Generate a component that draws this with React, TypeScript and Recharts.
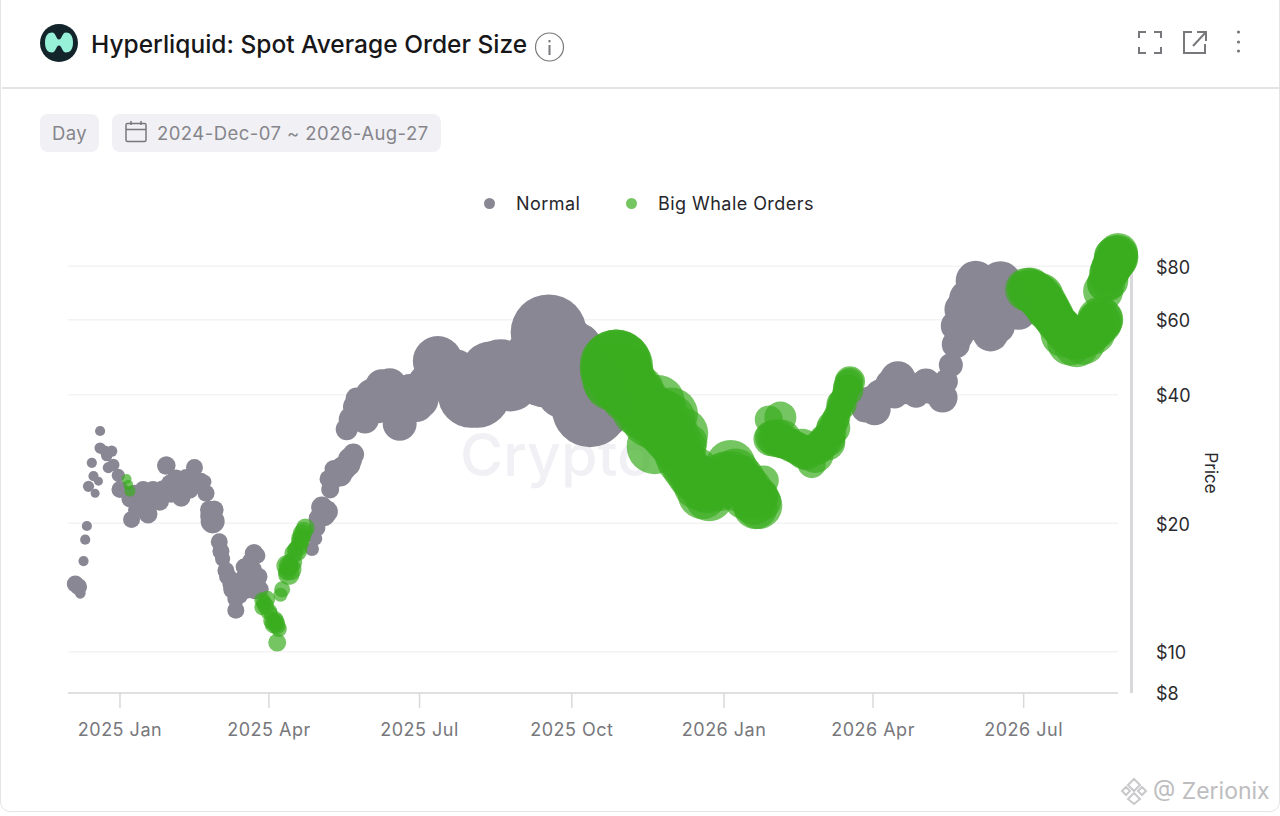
import { Legend, Scatter, ScatterChart, XAxis, YAxis, ZAxis, CartesianGrid } from 'recharts';

const FONT = 'Inter, "Noto Sans", sans-serif';
const GRAY = '#8a8794';
const GREEN = '#3aad1f';

// x values are days counted from 2025-01-01, z is the relative order size
const X_TICKS = [0, 90, 181, 273, 365, 455, 546];
const X_LABELS = ['2025 Jan', '2025 Apr', '2025 Jul', '2025 Oct', '2026 Jan', '2026 Apr', '2026 Jul'];
const Y_TICKS = [8, 10, 20, 40, 60, 80];

const normalDays = [
  -27, -25, -24, -22, -21, -20, -19, -15, -16, -13, -17, -12, -12, -9, -8, -5, -7, -4, -1, 0, 6, 7, 12, 14, 17, 18, 20,
  24, 28, 28, 31, 34, 37, 37, 40, 42, 45, 47, 51, 52, 55, 56, 60, 61, 64, 66, 68, 70, 70, 71, 72, 74, 75, 77, 78, 80,
  81, 82, 83,
  116, 118, 120, 123, 125, 127, 126, 129, 133, 136, 139, 137, 140, 143, 142, 148, 152, 156, 158, 163, 166, 169, 172,
  177, 181, 186, 192, 196, 202, 212, 216, 224, 230, 236, 245, 248, 257, 259, 263, 269, 275, 284, 288, 290,
  447, 452, 456, 459, 465, 470, 475, 481, 487, 493, 497, 499, 502, 505, 505, 509, 513, 517, 523, 532, 526, 523, 535,
  543, 538,
  9, 10, 15, 19, 22, 26, 30, 33, 36, 39, 43, 46, 49, 54, 57, 62, 65, 67, 69, 73, 76, 79, 83, 84, 85,
  119, 122, 128, 131, 134, 138, 141, 145, 150, 154, 160, 171, 175, 179, 183,
  450, 453, 462, 468, 478, 484, 490, 507, 511, 515, 519, 528, 530, 540,
];
const normalPrices = [
  14.4, 14.2, 13.7, 16.3, 18.3, 19.7, 24.4, 23.5, 25.8, 25.1, 27.7, 32.9, 30, 29.5, 28.8, 29.5, 27, 27.4, 25.9, 24,
  22.8, 20.4, 22.1, 24, 21, 22.8, 24, 22.5, 23.5, 27.3, 23.5, 25.4, 23, 24, 25.6, 24, 27, 25.1, 25, 23.5, 20.8, 20.2,
  18.1, 17.2, 15.5, 14.9, 14, 13.3, 12.5, 14.3, 13.6, 14.8, 15.8, 14, 14.8, 15.6, 17, 14, 14.6,
  17.4, 18.4, 20.5, 21, 21.3, 24, 25.4, 26.8, 26, 26.8, 28.2, 33.2, 35, 39.2, 37.5, 35, 40, 37, 42.1, 42.1, 39, 34.2,
  37, 39, 39, 42.5, 48, 45, 45, 40, 40, 45.4, 45.4, 42.5, 45.9, 48.4, 45.9, 56, 52, 41.2, 51, 37, 37.8, 43,
  39, 38, 37, 40, 42.5, 43.5, 41.2, 40, 42.5, 40.5, 39.4, 43, 47, 52.5, 58, 63.4, 67, 74, 70.6, 73.4, 55.7, 60, 68.5,
  62.6, 65,
  23.5, 21.5, 22.8, 23.8, 23.2, 24, 24.8, 23.8, 25, 24, 25.6, 24.6, 25.2, 21.5, 21.5, 16.5, 15, 14.4, 13.8, 14.4, 15,
  16.3, 16.8, 15, 14,
  19.5, 21.8, 25, 26, 27, 27.5, 29, 37, 38, 39, 41, 38, 41, 38, 41,
  37, 39, 41, 40, 41, 42, 41, 55, 58, 62, 69, 66, 58, 66,
];
const normalSizes = [
  5, 5, 2, 1.8, 1.8, 1.8, 2.2, 1.4, 1.8, 1.4, 1.8, 1.8, 2.2, 2.2, 2.2, 2.2, 2.2, 2.6, 3, 5, 5, 5, 6, 5, 6, 7, 5, 6, 6,
  6, 6, 6, 6, 6, 5, 6, 5, 5, 3.5, 5, 8, 10, 5, 5, 5, 5, 6, 5, 5, 5, 6, 5, 5, 6, 5, 6, 6, 7, 5,
  3.4, 3.4, 6.9, 10, 8.4, 5.6, 5.6, 5.6, 10, 8.4, 10, 8.4, 11.7, 8.4, 10, 13.6, 17.7, 13.6, 17.7, 20, 20, 20, 20, 20,
  25, 27.7, 43, 40, 40, 75, 75, 62, 71, 54, 43, 54, 100, 100, 100, 62, 54, 100, 90, 54,
  10, 13.6, 17.7, 15.6, 13.6, 22.4, 15.6, 11.7, 15.6, 11.7, 15.6, 10, 10, 13.6, 15.6, 22.4, 27.7, 27.7, 27.7, 30.7,
  22.4, 27.7, 27.7, 22.4, 27.7,
  5, 5, 6, 6, 6, 6, 5, 6, 6, 6, 5, 5, 4, 6, 6, 4, 5, 5, 5, 5, 5, 5, 4.5, 5, 4.5,
  5, 8, 6, 8, 8, 10, 8, 10, 14, 17, 18, 20, 18, 22, 25,
  12, 12, 13, 13, 13, 13, 13, 14, 18, 22, 25, 25, 22, 20,
];

const whaleDays = [
  4, 5, 6,
  86, 86, 89, 91, 92, 94, 96, 95, 98, 97, 101, 102, 103, 106, 108, 109, 110, 111,
  293, 297, 300, 302, 305, 308, 311, 314, 314, 317, 320, 323, 326, 329, 332, 335, 338, 341, 344, 348, 351, 352, 356,
  360, 364, 369, 372, 375, 378, 381, 384, 387, 389,
  392, 393, 396, 399, 402, 405, 408, 411, 415, 418, 420, 424, 428, 429, 432, 434, 437, 440,
  547, 550, 553, 556, 559, 561, 563, 565, 568, 570, 573, 576, 578, 580, 583, 586, 589, 592, 594, 595, 597, 599, 600,
  602, 603,
  87, 88, 90, 93, 94, 95, 101, 102, 104, 105, 107, 109, 110, 112,
  299, 300, 301, 298, 303, 306, 309, 312, 316, 319, 322, 325, 328, 331, 333, 336, 339, 342, 345, 347, 349, 353, 355,
  358, 362, 366, 370, 373, 376, 379, 382, 383, 385, 388,
  394, 397, 400, 403, 406, 409, 413, 416, 422, 426, 430, 431, 433, 435, 436, 438, 439, 441,
  548, 551, 554, 557, 558, 560, 562, 564, 566, 569, 571, 574, 575, 577, 579, 581, 584, 587, 590, 591, 593,
  596, 598, 598, 599, 601, 601, 602, 603,
  325, 333, 340, 356, 362, 372, 378, 386, 400, 412, 420, 427, 431, 436, 440, 441,
  570, 574, 578, 582, 588, 592, 556,
];
const whalePrices = [
  25.4, 24.6, 23.8,
  13.2, 12.7, 13.3, 12.3, 11.8, 11.9, 11.3, 10.5, 14, 13.6, 15.4, 15.9, 15.6, 17.4, 17.6, 18.1, 18.6, 19.2,
  45.6, 42.7, 47.1, 43, 41.5, 40.2, 39.2, 41.2, 37, 36, 35, 30.3, 37, 36, 35, 32.2, 29, 30, 31, 26.8, 25.4, 23.4, 25,
  24.8, 26, 27.4, 26.3, 25.4, 24.8, 24, 21.8, 23.2, 25.2,
  35, 31.5, 31.5, 35.4, 31, 30.5, 30.2, 29.8, 28.8, 27.5, 29.8, 30.6, 31.5, 33.2, 34.8, 36.6, 39, 42.5,
  71, 70.6, 69.3, 68, 65.5, 63.4, 61.7, 60, 58.2, 57, 55.5, 54, 54, 53.8, 54.5, 55.5, 57, 59, 70, 73, 77, 79, 80.8, 84,
  86,
  13, 12.8, 12.4, 11.6, 11.7, 11.5, 15.9, 15.2, 16.2, 17, 17.2, 18.4, 18.9, 19.5,
  47, 47.1, 46.5, 44, 44, 42.5, 41, 40, 38, 36.5, 35.5, 34, 33, 32, 31, 30, 28, 27, 26, 25.5, 24.5, 24.2, 23.8, 25,
  25.5, 26.2, 26, 25.5, 24.6, 24, 23, 22.3, 23, 22.5,
  31.8, 32, 31, 30.8, 30.3, 30, 29, 29.5, 30, 31, 32.5, 34, 35.5, 37.5, 38.5, 40, 41.5, 43,
  70.6, 70, 68.5, 66.5, 66, 64, 62.5, 61, 59, 57.5, 56, 55, 54.5, 54, 54, 54, 55, 56, 58, 59, 60,
  73, 78, 74, 80, 82, 84, 83, 85,
  38.5, 36, 32.5, 23, 24, 24, 23, 22, 31.5, 30, 29, 31, 33.5, 38, 41, 43,
  55.5, 53, 52.5, 53, 56, 60, 68,
];
const whaleSizes = [
  1.7, 1.7, 2.1,
  4.4, 4.4, 4.4, 3.4, 5.6, 4.4, 4.4, 5.6, 4.4, 3.4, 5.6, 6.9, 8.4, 4.4, 5.6, 5.6, 5.6, 5.6,
  43, 54, 85, 62, 62, 62, 50, 40, 54, 50, 54, 54, 33.5, 40, 47, 43, 43, 33.5, 22.4, 33.5, 40, 43, 33.5, 27.7, 33.5,
  43, 40, 40, 33.5, 33.5, 33.5, 22.4, 15.6,
  13.6, 20, 22.4, 17.7, 20, 17.7, 17.7, 17.7, 15, 13.6, 17.7, 17.7, 20, 13.6, 13.6, 11.7, 11.7, 13.6,
  22.4, 33.5, 33.5, 33.5, 33.5, 33.5, 30, 27.7, 27.7, 27.7, 27.7, 27.7, 27.7, 25, 27.7, 27.7, 30, 33.5, 27.7, 22, 25,
  27.7, 27.7, 33.5, 27.7,
  4.4, 5, 5, 6, 6, 5, 8, 8, 7, 6, 7, 6, 6, 6,
  85, 85, 85, 70, 75, 65, 60, 55, 55, 55, 50, 50, 45, 45, 40, 40, 40, 40, 40, 40, 40, 40, 35, 33, 33, 33, 38, 35, 35,
  33, 33, 33, 30, 25,
  20, 20, 18, 18, 18, 18, 16, 16, 18, 18, 15, 13, 13, 12, 12, 12, 13, 13,
  33, 33, 33, 33, 30, 33, 30, 30, 28, 28, 28, 28, 28, 28, 26, 27, 28, 28, 30, 33, 33,
  25, 27, 24, 27, 30, 30, 30, 28,
  50, 50, 45, 40, 33, 33, 35, 38, 26, 26, 24, 24, 20, 16, 16, 16,
  36, 36, 36, 34, 34, 36, 38,
];

const normalData = normalDays.map((day, i) => ({ day, price: normalPrices[i], size: normalSizes[i] }));
const whaleData = whaleDays.map((day, i) => ({ day, price: whalePrices[i], size: whaleSizes[i] }));

function LegendRow({ payload }: { payload?: any[] }) {
  return (
    <div style={{ position: 'relative', height: 24, fontFamily: FONT, fontSize: 18, letterSpacing: 0.45, color: '#26262b' }}>
      {(payload ?? []).map((item) => {
        const first = item.value === 'Normal';
        const left = first ? 484 : 626;
        return (
          <div key={item.value}>
            <span
              style={{
                position: 'absolute',
                left,
                top: 6,
                width: 11,
                height: 11,
                borderRadius: '50%',
                background: item.color,
                opacity: first ? 1 : 0.7,
              }}
            />
            <span style={{ position: 'absolute', left: left + 32, top: 0, lineHeight: '24px', whiteSpace: 'nowrap' }}>
              {item.value}
            </span>
          </div>
        );
      })}
    </div>
  );
}

const chipStyle: React.CSSProperties = {
  position: 'absolute',
  top: 114,
  height: 38,
  borderRadius: 8,
  background: '#f1f1f5',
  display: 'flex',
  alignItems: 'center',
  fontFamily: FONT,
  fontSize: 18.5,
  letterSpacing: 0.45,
  color: '#85858b',
  whiteSpace: 'nowrap',
};

function Header() {
  return (
    <>
      <svg style={{ position: 'absolute', left: 38, top: 22 }} width={42} height={42} viewBox="0 0 42 42">
        <circle cx={21} cy={21} r={19} fill="#13252a" />
        <path
          d="M7 20.5c0-7 3-10 7-10 4 0 4 7 7 7s3-7 7-7c4 0 7 3 7 10s-3 10-7 10c-4 0-4-7-7-7s-3 7-7 7c-4 0-7-3-7-10z"
          fill="#97f0d8"
        />
      </svg>
      <div
        style={{
          position: 'absolute',
          left: 91,
          top: 27,
          fontFamily: FONT,
          fontSize: 24.5,
          lineHeight: '34px',
          fontWeight: 500,
          color: '#17171a',
          whiteSpace: 'nowrap',
        }}
      >
        Hyperliquid: Spot Average Order Size
      </div>
      <svg style={{ position: 'absolute', left: 534, top: 32 }} width={32} height={32} viewBox="0 0 32 32">
        <circle cx={15.5} cy={15} r={14} fill="none" stroke="#77777c" strokeWidth={1.2} />
        <rect x={14.5} y={13} width={2} height={10} fill="#77777c" />
        <rect x={14.5} y={8} width={2} height={2.4} fill="#77777c" />
      </svg>
      <svg
        style={{ position: 'absolute', left: 1130, top: 22 }}
        width={125}
        height={40}
        viewBox="0 0 125 40"
        fill="none"
        stroke="#77777c"
        strokeWidth={2}
      >
        <path d="M9 16V10h7M24 10h7v6M31 25v6h-7M16 31H9v-6" />
        <path d="M62 10H54v21h21v-9M63 24l13-14M67 10h9v9" />
        <circle cx={108.5} cy={10} r={1.6} fill="#77777c" stroke="none" />
        <circle cx={108.5} cy={20} r={1.6} fill="#77777c" stroke="none" />
        <circle cx={108.5} cy={29} r={1.6} fill="#77777c" stroke="none" />
      </svg>
      <div style={{ position: 'absolute', left: 2, right: 0, top: 87, height: 1.5, background: '#e4e4e6' }} />
      <div style={{ ...chipStyle, left: 40, width: 59, justifyContent: 'center' }}>Day</div>
      <div style={{ ...chipStyle, left: 112, width: 329, paddingLeft: 45, boxSizing: 'border-box' }}>
        2024-Dec-07 ~ 2026-Aug-27
      </div>
      <svg
        style={{ position: 'absolute', left: 124, top: 120 }}
        width={26}
        height={26}
        viewBox="0 0 26 26"
        fill="none"
        stroke="#77777c"
        strokeWidth={1.5}
      >
        <rect x={2} y={3.5} width={20} height={18} rx={1.5} />
        <path d="M2 9.5h20M7 1v4M17 1v4" />
      </svg>
    </>
  );
}

export default function App() {
  return (
    <div style={{ position: 'fixed', left: 0, top: 0, width: 1280, height: 816, background: '#fff', overflow: 'hidden' }}>
      <div
        style={{
          position: 'absolute',
          left: 0,
          top: -20,
          width: 1280,
          height: 832,
          boxSizing: 'border-box',
          border: '1.5px solid #e4e4e6',
          borderRadius: 10,
        }}
      />
      <Header />
      <div
        style={{
          position: 'absolute',
          left: 460,
          top: 420,
          fontFamily: FONT,
          fontSize: 59,
          lineHeight: '70px',
          fontWeight: 500,
          color: '#f1f1f5',
          whiteSpace: 'nowrap',
        }}
      >
        Crypto
      </div>
      <div style={{ position: 'absolute', left: 1130, top: 267, width: 3, height: 426, background: '#d9d9db' }} />
      <div style={{ position: 'absolute', left: 0, top: 0 }}>
        <ScatterChart width={1280} height={816} margin={{ top: 225, right: 0, bottom: 0, left: 68 }}>
          <CartesianGrid vertical={false} stroke="#f3f3f4" strokeWidth={1.5} syncWithTicks />
          <XAxis
            type="number"
            dataKey="day"
            domain={[-31.4, 603]}
            ticks={X_TICKS}
            tickFormatter={(v: number) => X_LABELS[X_TICKS.indexOf(v)]}
            axisLine={{ stroke: '#d9d9db', strokeWidth: 1.5 }}
            tickLine={{ stroke: '#d9d9db', strokeWidth: 1.5 }}
            tickSize={15}
            tickMargin={15}
            height={123}
            interval={0}
            tick={{ fontFamily: FONT, fontSize: 18, letterSpacing: 0.5, fill: '#77777c' }}
          />
          <YAxis
            type="number"
            dataKey="price"
            orientation="right"
            scale="log"
            domain={[8, 100]}
            ticks={Y_TICKS}
            tickFormatter={(v: number) => `$${v}`}
            axisLine={false}
            tickLine={false}
            tickSize={38}
            tickMargin={0}
            width={162}
            interval={0}
            tick={{ fontFamily: FONT, fontSize: 18, fill: '#2a2a2e', dy: 1 }}
            label={{
              value: 'Price',
              angle: 90,
              position: 'center',
              dx: 12,
              dy: 14,
              style: { fontFamily: FONT, fontSize: 17, fill: '#2a2a2e' },
            }}
          />
          <ZAxis type="number" dataKey="size" domain={[0, 100]} range={[0, 4536]} />
          <Legend
            verticalAlign="middle"
            layout="horizontal"
            wrapperStyle={{ left: 0, top: 192, width: 1280 }}
            content={(props: any) => <LegendRow payload={props.payload} />}
          />
          <Scatter name="Normal" data={normalData} fill={GRAY} isAnimationActive={false} />
          <Scatter name="Big Whale Orders" data={whaleData} fill={GREEN} fillOpacity={0.7} isAnimationActive={false} />
        </ScatterChart>
      </div>
      <svg
        style={{ position: 'absolute', left: 1119, top: 776 }}
        width={30}
        height={30}
        viewBox="0 0 30 30"
        fill="none"
        stroke="#c9c9cc"
        strokeWidth={2}
      >
        <path d="M15 3l6 6-6 6-6-6zM7 11l4 4-4 4-4-4zM23 11l4 4-4 4-4-4zM15 17l6 6-6 5-6-5z" />
      </svg>
      <div
        style={{
          position: 'absolute',
          left: 1153,
          top: 774,
          fontFamily: FONT,
          fontSize: 23,
          lineHeight: '34px',
          color: '#bdbdc0',
          whiteSpace: 'nowrap',
        }}
      >
        @ Zerionix
      </div>
    </div>
  );
}
